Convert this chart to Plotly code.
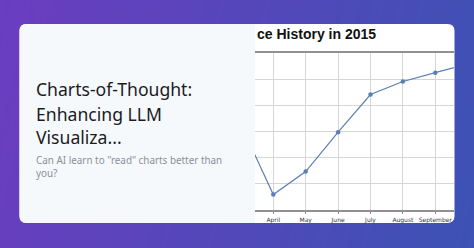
import plotly.graph_objects as go

W, H = 474, 248

# ---- data ----
months = ["March", "April", "May", "June", "July", "August", "September", "October"]
prices = [32.7, 5.9, 14.7, 29.8, 44.2, 49.2, 52.6, 55.9]

title_lines = ["Charts-of-Thought:", "Enhancing LLM", "Visualiza..."]
subtitle_lines = ['Can AI learn to "read" charts better than', "you?"]
chart_title = "ce History in 2015"

def px(x):
    return x / W

def py(y):
    return 1 - y / H

def hex2rgb(h):
    h = h.lstrip("#")
    return tuple(int(h[i:i + 2], 16) for i in (0, 2, 4))

def lerp(c1, c2, t):
    a, b = hex2rgb(c1), hex2rgb(c2)
    return "rgb(%d,%d,%d)" % tuple(round(a[i] + (b[i] - a[i]) * t) for i in range(3))

shapes = []
# gradient background (diagonal-ish via slanted strips)
n = 80
c_start, c_end = "#6b3dc0", "#3c52b4"
slant = 60
total = W + slant
step = total / n
for i in range(n + 1):
    x0 = -slant + i * step - 1
    x1 = x0 + step + 1.5
    t = i / n
    col = lerp(c_start, c_end, t)
    path = "M %f,%f L %f,%f L %f,%f L %f,%f Z" % (
        px(x0 + slant), py(0), px(x1 + slant), py(0), px(x1), py(H), px(x0), py(H))
    shapes.append(dict(type="path", xref="paper", yref="paper", path=path,
                       fillcolor=col, line=dict(width=0), layer="below"))

def rounded_rect(x0, y0, x1, y1, r, rl=True, rr=True):
    s = []
    rL = r if rl else 0
    rR = r if rr else 0
    s.append("M %f,%f" % (px(x0 + rL), py(y0)))
    s.append("L %f,%f" % (px(x1 - rR), py(y0)))
    if rR:
        s.append("Q %f,%f %f,%f" % (px(x1), py(y0), px(x1), py(y0 + rR)))
    s.append("L %f,%f" % (px(x1), py(y1 - rR)))
    if rR:
        s.append("Q %f,%f %f,%f" % (px(x1), py(y1), px(x1 - rR), py(y1)))
    s.append("L %f,%f" % (px(x0 + rL), py(y1)))
    if rL:
        s.append("Q %f,%f %f,%f" % (px(x0), py(y1), px(x0), py(y1 - rL)))
    s.append("L %f,%f" % (px(x0), py(y0 + rL)))
    if rL:
        s.append("Q %f,%f %f,%f" % (px(x0), py(y0), px(x0 + rL), py(y0)))
    s.append("Z")
    return " ".join(s)

# card (white)
shapes.append(dict(type="path", xref="paper", yref="paper",
                   path=rounded_rect(19.5, 24, 454.5, 223, 7),
                   fillcolor="#ffffff", line=dict(width=0), layer="below"))
# left light panel
shapes.append(dict(type="path", xref="paper", yref="paper",
                   path=rounded_rect(19.5, 24, 255, 223, 7, rl=True, rr=False),
                   fillcolor="#f6f9fc", line=dict(width=0), layer="below"))

fig = go.Figure()
fig.add_trace(go.Scatter(
    x=months, y=prices, mode="lines+markers",
    line=dict(color="#5b7eb6", width=1.2),
    marker=dict(color="#5b7eb6", size=4.5),
    showlegend=False, hoverinfo="skip",
))

annotations = []
title_y = [89, 114, 137]
for txt, yy in zip(title_lines, title_y):
    annotations.append(dict(text=txt, xref="paper", yref="paper", x=px(34), y=py(yy),
                            xanchor="left", yanchor="middle", showarrow=False,
                            font=dict(family="Noto Sans", size=17.6, color="#1b1b1f")))
sub_y = [160, 173]
for txt, yy in zip(subtitle_lines, sub_y):
    annotations.append(dict(text=txt, xref="paper", yref="paper", x=px(34), y=py(yy),
                            xanchor="left", yanchor="middle", showarrow=False,
                            font=dict(family="Noto Sans", size=9.9, color="#8a8f99")))
annotations.append(dict(text="<b>%s</b>" % chart_title, xref="paper", yref="paper",
                        x=px(254.5), y=py(34), xanchor="left", yanchor="middle",
                        showarrow=False,
                        font=dict(family="Liberation Sans, Arial", size=14, color="#111111")))

x0px, x1px = 255, 454
cat_w = 32.4
r0 = 1 - (273.3 - x0px) / cat_w
r1 = r0 + (x1px - x0px) / cat_w

fig.update_layout(
    width=W, height=H,
    margin=dict(l=0, r=0, t=0, b=0),
    paper_bgcolor="#5a47bb",
    plot_bgcolor="rgba(0,0,0,0)",
    shapes=shapes,
    annotations=annotations,
    xaxis=dict(
        domain=[px(x0px), px(x1px)],
        type="category", categoryorder="array", categoryarray=months,
        range=[r0, r1],
        showgrid=True, gridcolor="#d6d6d6", gridwidth=1,
        showline=True, mirror=True, linecolor="#909090", linewidth=1.6,
        ticks="outside", ticklen=2.5, tickcolor="#8a8a8a", tickwidth=1,
        tickfont=dict(family="DejaVu Sans", size=6, color="#333333"),
        zeroline=False, fixedrange=True,
    ),
    yaxis=dict(
        domain=[py(210), py(53.3)],
        range=[0, 60], dtick=10,
        showgrid=True, gridcolor="#d6d6d6", gridwidth=1,
        showticklabels=False, ticks="",
        showline=False, zeroline=False, fixedrange=True,
    ),
)

fig.write_html("out.html")
